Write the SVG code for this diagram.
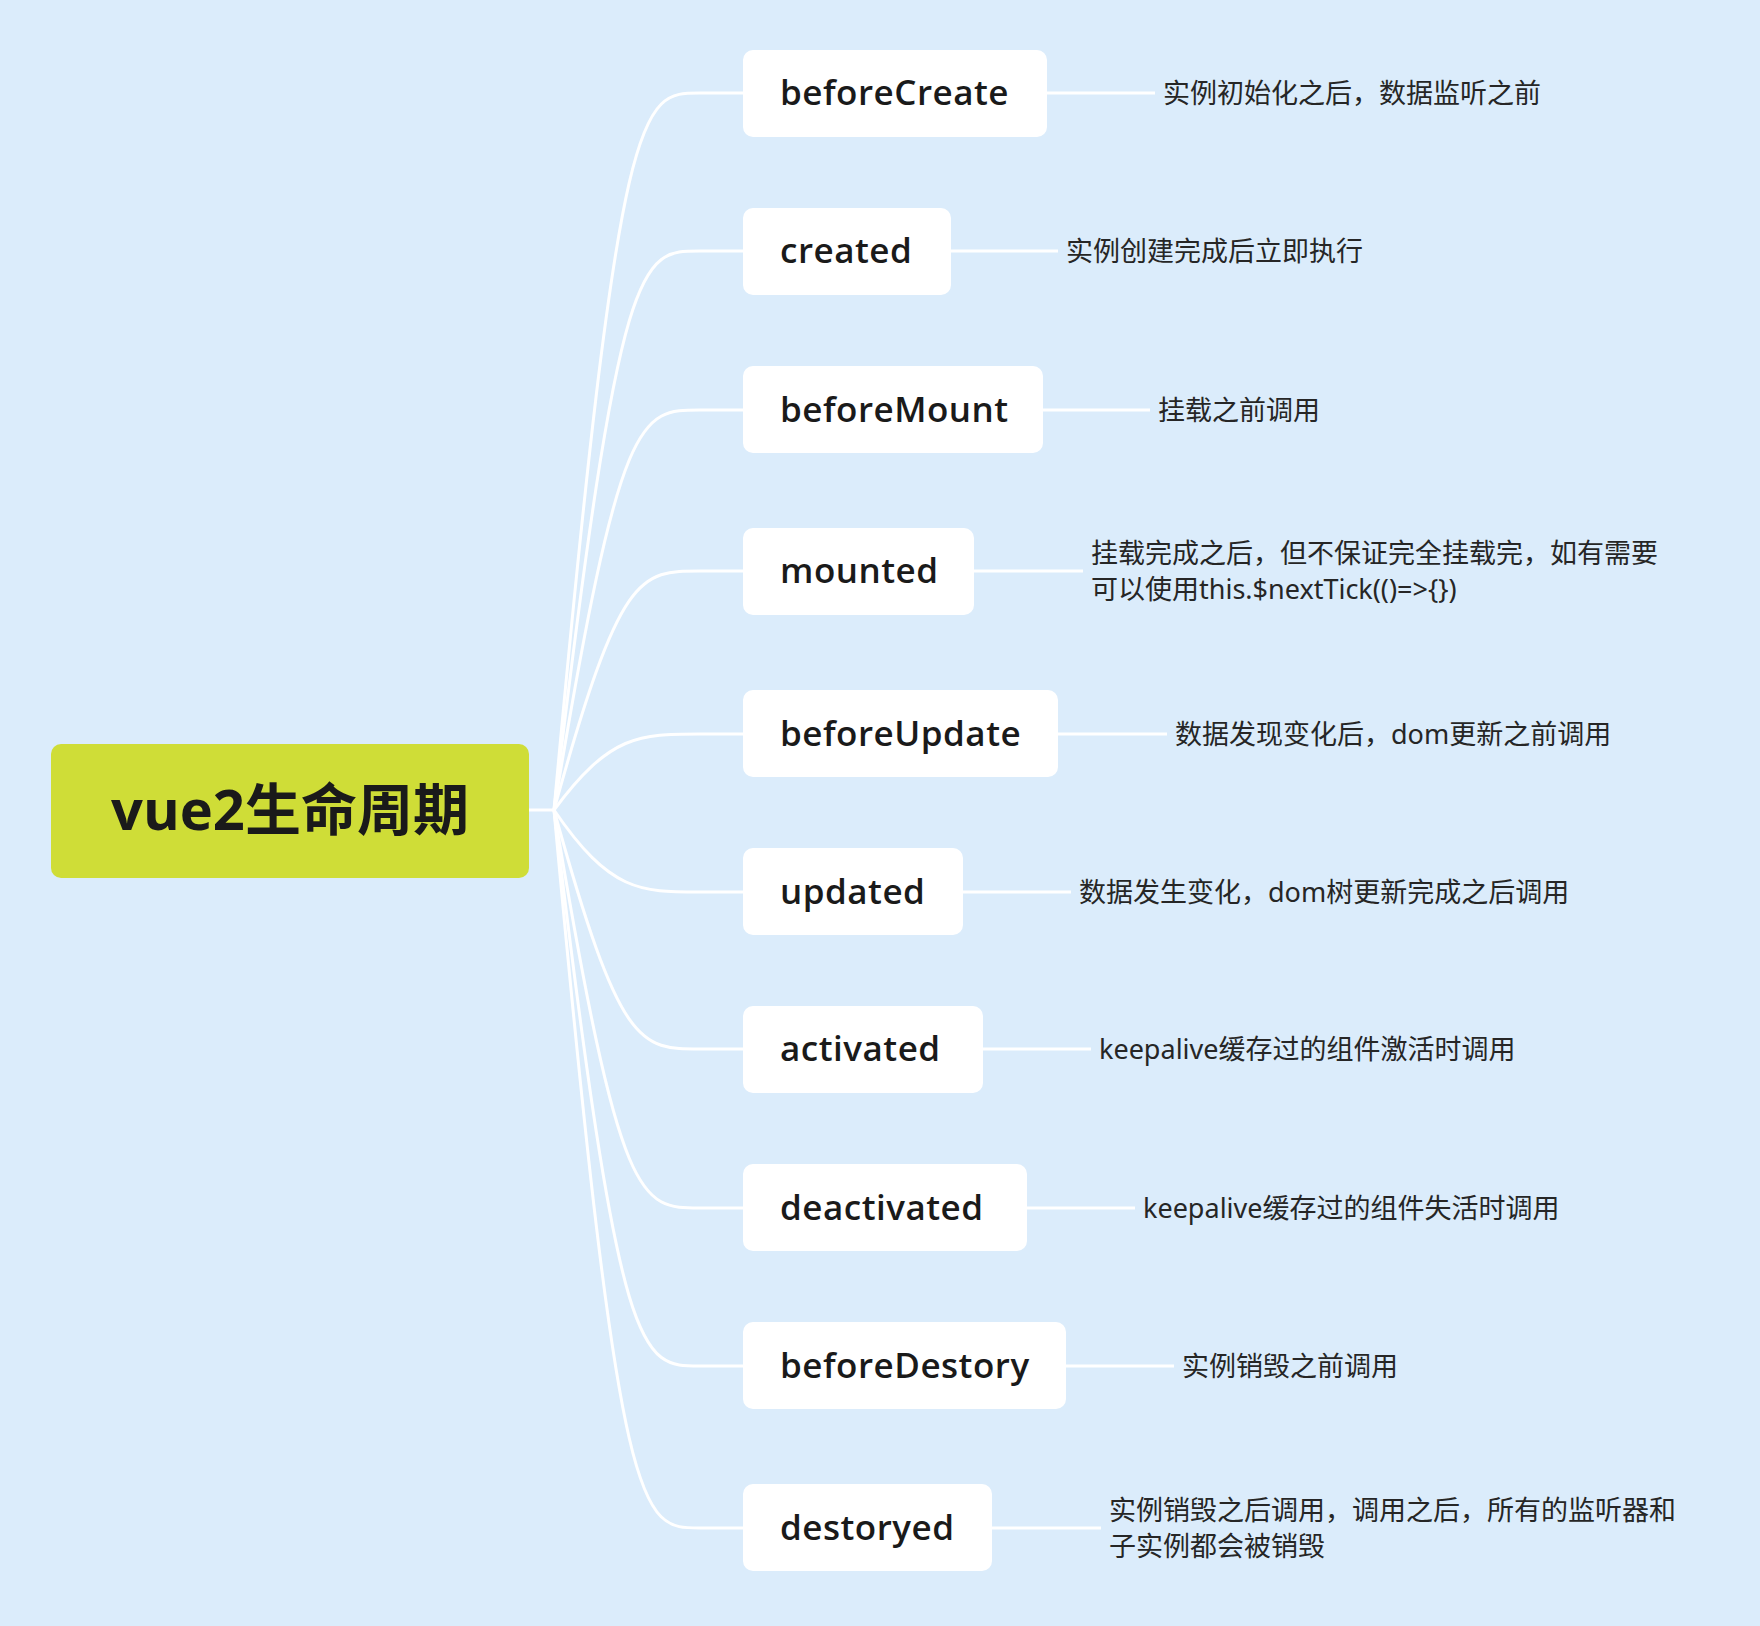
<svg xmlns="http://www.w3.org/2000/svg" width="1760" height="1626" viewBox="0 0 1760 1626">
<style>
.n{fill:#ffffff}
.t{font-family:"Open Sans","Noto Sans",sans-serif;font-weight:600;font-size:35px;fill:#1a1a1a;letter-spacing:0.5px}
.l{font-family:"Noto Sans","Noto Sans CJK SC",sans-serif;font-size:27px;fill:#262626}
.c{fill:none;stroke:#ffffff;stroke-width:3}
</style>
<rect width="1760" height="1626" fill="#dbecfb"/>
<g id="connectors">
<path class="c" d="M528 810 H554"/>
<path class="c" d="M554 810 C620 93,640 93,700 93 H743"/>
<path class="c" d="M554 810 C620 251,640 251,700 251 H743"/>
<path class="c" d="M554 810 C620 410,640 410,700 410 H743"/>
<path class="c" d="M554 810 C620 571,640 571,700 571 H743"/>
<path class="c" d="M554 810 C610 734,640 734,700 734 H743"/>
<path class="c" d="M554 810 C610 892,640 892,700 892 H743"/>
<path class="c" d="M554 810 C620 1049,640 1049,700 1049 H743"/>
<path class="c" d="M554 810 C620 1208,640 1208,700 1208 H743"/>
<path class="c" d="M554 810 C620 1366,640 1366,700 1366 H743"/>
<path class="c" d="M554 810 C620 1528,640 1528,700 1528 H743"/>
<path class="c" d="M1047 93 H1155 M951 251 H1058 M1043 410 H1150 M974 571 H1083 M1058 734 H1167 M963 892 H1071 M983 1049 H1091 M1027 1208 H1135 M1066 1366 H1174 M992 1528 H1101"/>
</g>
<g id="root"><rect x="51" y="744" width="478" height="134" rx="10" fill="#cfdd37"/><text x="290" y="830" text-anchor="middle" font-family="'Open Sans','Noto Sans CJK SC',sans-serif" font-weight="700" font-size="56" fill="#1a1a1a">vue2生命周期</text></g>
<g id="n1"><rect class="n" x="743" y="50" width="304" height="87" rx="10"/><text class="t" x="780" y="105">beforeCreate</text><text class="l" x="1163" y="103">实例初始化之后，数据监听之前</text></g>
<g id="n2"><rect class="n" x="743" y="208" width="208" height="87" rx="10"/><text class="t" x="780" y="263">created</text><text class="l" x="1066" y="261">实例创建完成后立即执行</text></g>
<g id="n3"><rect class="n" x="743" y="366" width="300" height="87" rx="10"/><text class="t" x="780" y="422">beforeMount</text><text class="l" x="1158" y="420">挂载之前调用</text></g>
<g id="n4"><rect class="n" x="743" y="528" width="231" height="87" rx="10"/><text class="t" x="780" y="583">mounted</text><text class="l" x="1091" y="563">挂载完成之后，但不保证完全挂载完，如有需要</text><text class="l" x="1091" y="599">可以使用this.$nextTick(()=&gt;{})</text></g>
<g id="n5"><rect class="n" x="743" y="690" width="315" height="87" rx="10"/><text class="t" x="780" y="746">beforeUpdate</text><text class="l" x="1175" y="744">数据发现变化后，dom更新之前调用</text></g>
<g id="n6"><rect class="n" x="743" y="848" width="220" height="87" rx="10"/><text class="t" x="780" y="904">updated</text><text class="l" x="1079" y="902">数据发生变化，dom树更新完成之后调用</text></g>
<g id="n7"><rect class="n" x="743" y="1006" width="240" height="87" rx="10"/><text class="t" x="780" y="1061">activated</text><text class="l" x="1099" y="1059">keepalive缓存过的组件激活时调用</text></g>
<g id="n8"><rect class="n" x="743" y="1164" width="284" height="87" rx="10"/><text class="t" x="780" y="1220">deactivated</text><text class="l" x="1143" y="1218">keepalive缓存过的组件失活时调用</text></g>
<g id="n9"><rect class="n" x="743" y="1322" width="323" height="87" rx="10"/><text class="t" x="780" y="1378">beforeDestory</text><text class="l" x="1182" y="1376">实例销毁之前调用</text></g>
<g id="n10"><rect class="n" x="743" y="1484" width="249" height="87" rx="10"/><text class="t" x="780" y="1540">destoryed</text><text class="l" x="1109" y="1520">实例销毁之后调用，调用之后，所有的监听器和</text><text class="l" x="1109" y="1556">子实例都会被销毁</text></g>
</svg>
